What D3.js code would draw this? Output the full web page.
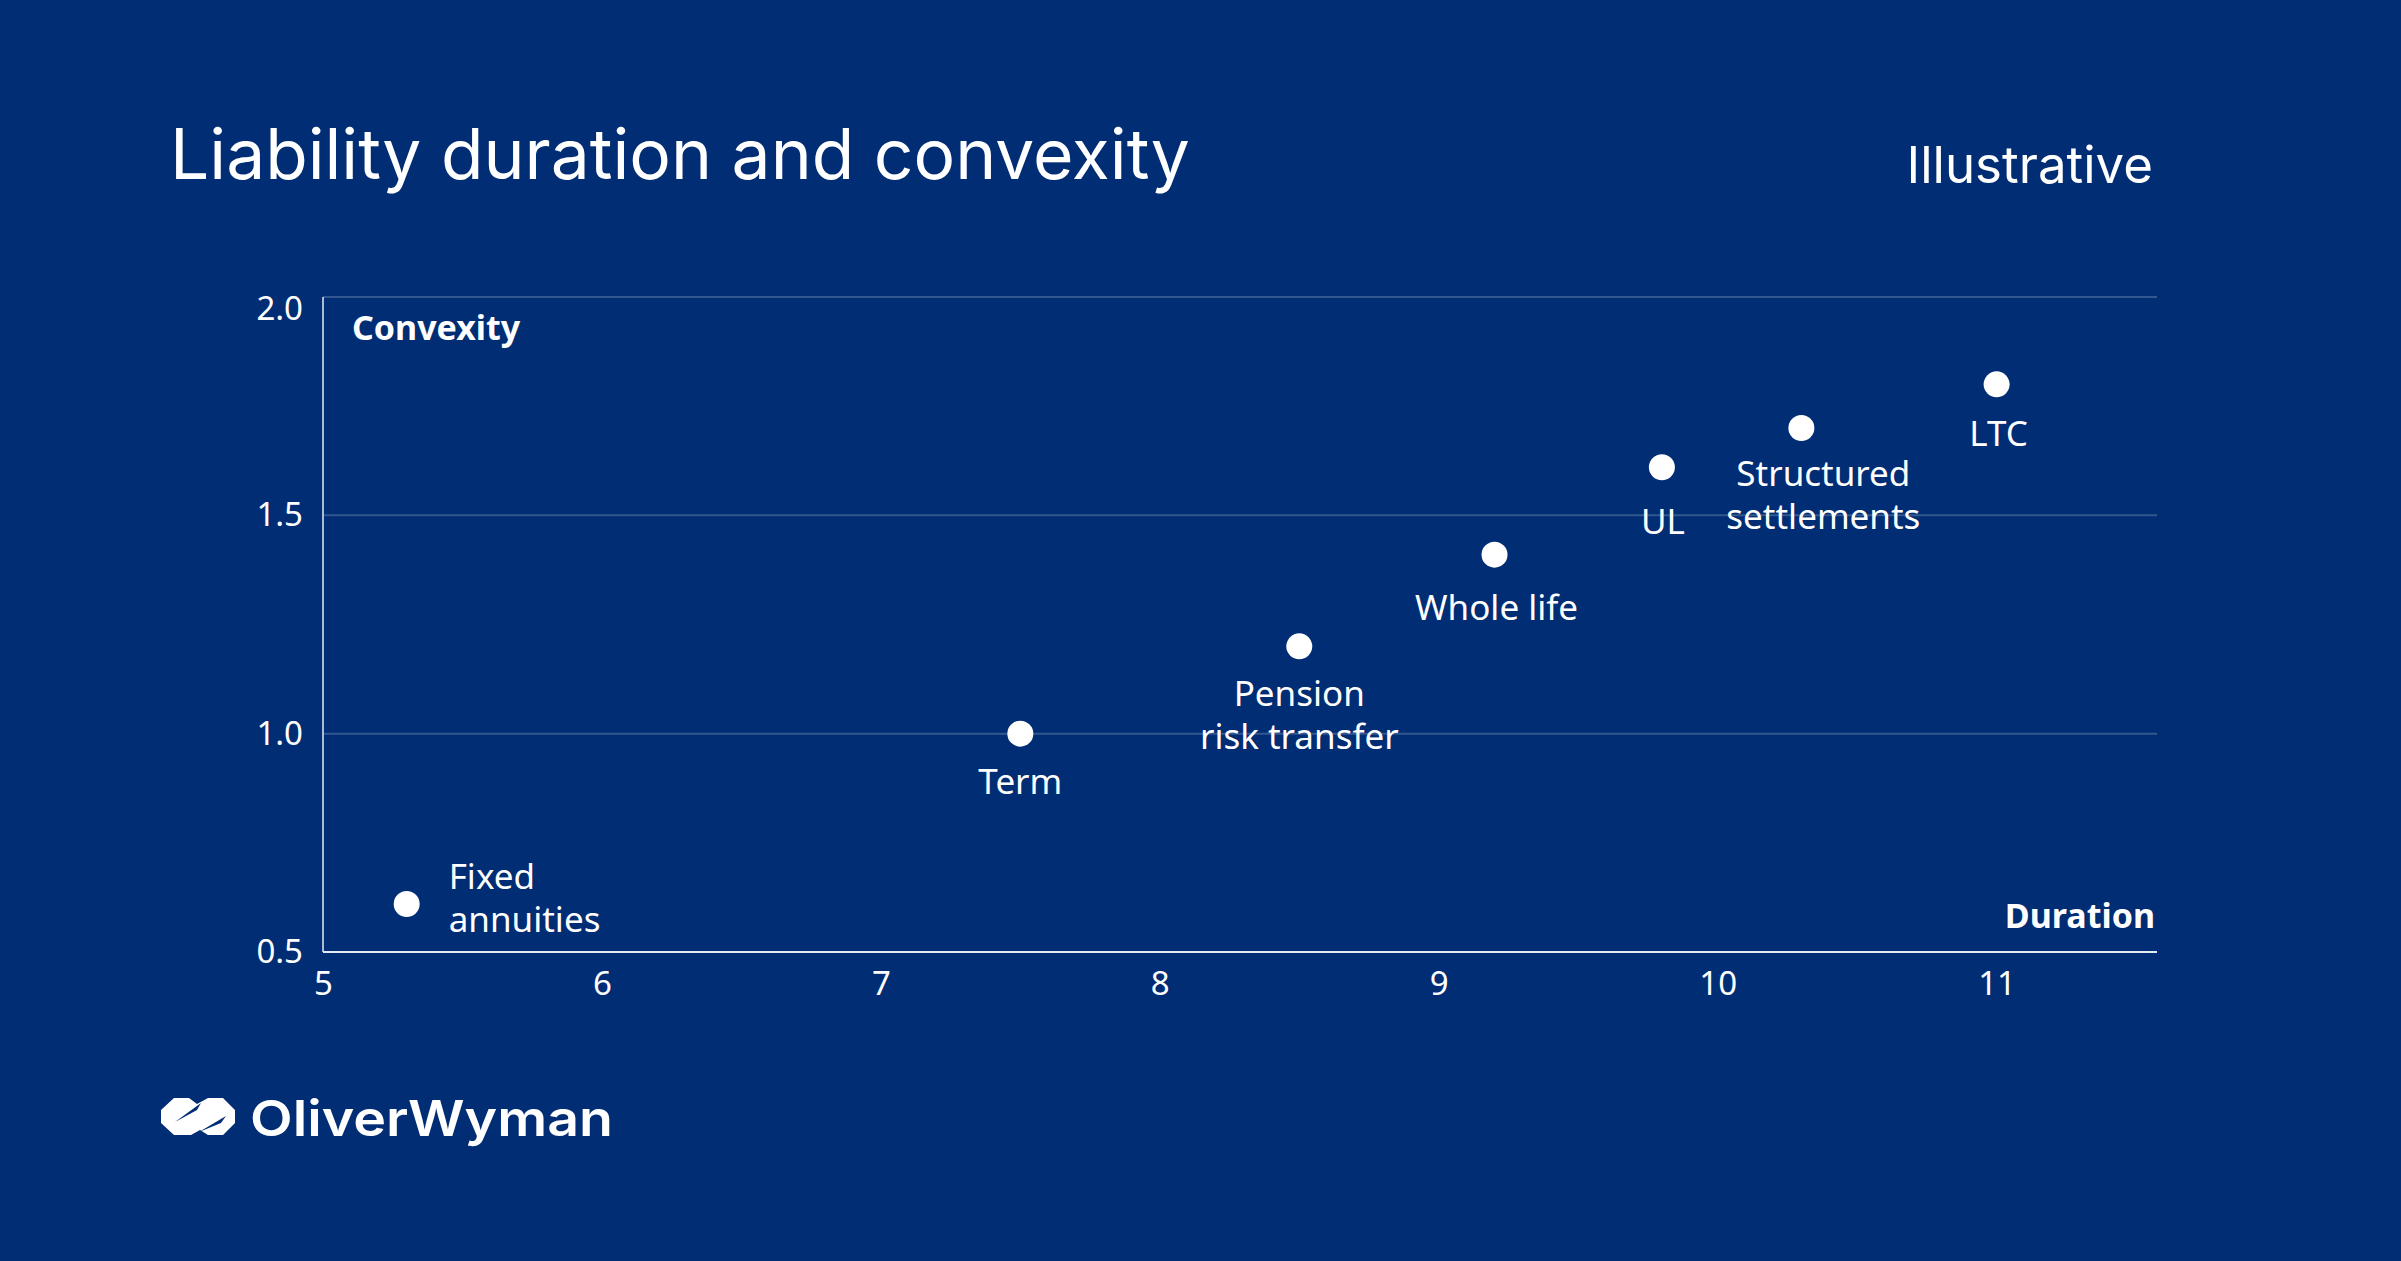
<!DOCTYPE html>
<html>
<head>
<meta charset="utf-8">
<script src="https://cdn.jsdelivr.net/npm/d3@7"></script>
<style>
  body { margin: 0; background: #012d74; }
  svg { display: block; }
  .tick text { fill: #ffffff; font-family: "Noto Sans", sans-serif; font-size: 33px; }
</style>
</head>
<body>
<div id="chart"></div>
<script>
// data
var products = ["Fixed annuities", "Term", "Pension risk transfer", "Whole life", "UL", "Structured settlements", "LTC"];
var duration = [5.3, 7.5, 8.5, 9.2, 9.8, 10.3, 11.0];
var convexity = [0.61, 1.0, 1.2, 1.41, 1.61, 1.7, 1.8];
var xTicks = [5, 6, 7, 8, 9, 10, 11];
var yTicks = [0.5, 1.0, 1.5, 2.0];

var svgWidth = 2401;
var svgHeight = 1261;

var svg = d3.select("#chart")
  .append("svg")
  .attr("width", svgWidth)
  .attr("height", svgHeight);

svg.append("rect")
  .attr("width", svgWidth)
  .attr("height", svgHeight)
  .attr("fill", "#012d74");

// plot area
var plotLeft = 323, plotRight = 2157, plotTop = 297, plotBottom = 952;

var xScale = d3.scaleLinear()
  .domain([5, 11.575])
  .range([plotLeft, plotRight]);

var yScale = d3.scaleLinear()
  .domain([0.5, 2.0])
  .range([plotBottom, plotTop]);

// gridlines
svg.append("g")
  .selectAll("line")
  .data(yTicks.filter(d => d > 0.5))
  .enter()
  .append("line")
  .attr("x1", plotLeft)
  .attr("x2", plotRight)
  .attr("y1", d => yScale(d))
  .attr("y2", d => yScale(d))
  .attr("stroke", "rgba(255,255,255,0.2)")
  .attr("stroke-width", 2);

// axes
var xAxis = d3.axisBottom(xScale)
  .tickValues(xTicks)
  .tickSize(0)
  .tickPadding(20)
  .tickFormat(d3.format("d"));

var yAxis = d3.axisLeft(yScale)
  .tickValues(yTicks)
  .tickSize(0)
  .tickPadding(20)
  .tickFormat(d3.format(".1f"));

var gx = svg.append("g")
  .attr("transform", `translate(0, ${plotBottom})`)
  .call(xAxis);
gx.select(".domain").remove();

var gy = svg.append("g")
  .attr("transform", `translate(${plotLeft}, 0)`)
  .call(yAxis);
gy.select(".domain").remove();
// top label sits just under its gridline
gy.selectAll(".tick text")
  .filter(d => d === 2.0)
  .attr("dy", "0.72em")
  .attr("y", -1);

svg.append("line")
  .attr("x1", plotLeft).attr("x2", plotLeft)
  .attr("y1", plotTop).attr("y2", plotBottom)
  .attr("stroke", "#e6ebf3")
  .attr("stroke-width", 1.5);

svg.append("line")
  .attr("x1", plotLeft).attr("x2", plotRight)
  .attr("y1", plotBottom).attr("y2", plotBottom)
  .attr("stroke", "#e6ebf3")
  .attr("stroke-width", 2);

// axis titles
svg.append("text")
  .attr("x", plotLeft + 29)
  .attr("y", 340)
  .attr("fill", "#ffffff")
  .attr("font-family", "Noto Sans, sans-serif")
  .attr("font-weight", "bold")
  .attr("font-size", 34)
  .text("Convexity");

svg.append("text")
  .attr("x", plotRight - 2)
  .attr("y", 928)
  .attr("text-anchor", "end")
  .attr("fill", "#ffffff")
  .attr("font-family", "Noto Sans, sans-serif")
  .attr("font-weight", "bold")
  .attr("font-size", 34)
  .text("Duration");

// points
var points = products.map((p, i) => ({ name: p, x: duration[i], y: convexity[i] }));

svg.append("g")
  .selectAll("circle")
  .data(points)
  .enter()
  .append("circle")
  .attr("cx", d => xScale(d.x))
  .attr("cy", d => yScale(d.y))
  .attr("r", 13)
  .attr("fill", "#ffffff");

// label placement: lines split for wrapping, most sit centered under the dot
var labelLines = {
  "Fixed annuities": ["Fixed", "annuities"],
  "Pension risk transfer": ["Pension", "risk transfer"],
  "Structured settlements": ["Structured", "settlements"]
};

var labels = svg.append("g")
  .selectAll("text")
  .data(points)
  .enter()
  .append("text")
  .attr("fill", "#ffffff")
  .attr("font-family", "Noto Sans, sans-serif")
  .attr("font-size", 35)
  .attr("text-anchor", d => d.name === "Fixed annuities" ? "start" : "middle")
  .attr("transform", function(d) {
    var dx = 0, dy = 60;
    if (d.name === "Fixed annuities") { dx = 42; dy = -15; }
    if (d.name === "Structured settlements") { dx = 22; dy = 58; }
    if (d.name === "UL") { dx = 1; dy = 67; }
    if (d.name === "Whole life") { dx = 2; dy = 65; }
    if (d.name === "LTC") { dx = 2; dy = 62; }
    return `translate(${xScale(d.x) + dx}, ${yScale(d.y) + dy})`;
  });

labels.selectAll("tspan")
  .data(d => labelLines[d.name] || [d.name])
  .enter()
  .append("tspan")
  .attr("x", 0)
  .attr("y", (d, i) => i * 43)
  .text(d => d);

// title
svg.append("text")
  .attr("x", 170)
  .attr("y", 179)
  .attr("fill", "#ffffff")
  .attr("font-family", "Inter, sans-serif")
  .attr("font-size", 69.5)
  .text("Liability duration and convexity");

svg.append("text")
  .attr("x", 2153)
  .attr("y", 183)
  .attr("text-anchor", "end")
  .attr("fill", "#ffffff")
  .attr("font-family", "Inter, sans-serif")
  .attr("font-size", 51)
  .text("Illustrative");

// logo
var logo = svg.append("g");
logo.append("path")
  .attr("d", "M161,1110 L174,1098 L189,1098 L197,1104 L208,1098 L223,1098 L235,1110 L235,1123 L223,1135 L208,1135 L200,1130 L191,1135 L174,1135 L161,1123 Z")
  .attr("fill", "#ffffff");
logo.append("path")
  .attr("d", "M201,1103 L175,1122 L197,1110 Z M226,1116 L199,1132 L221,1123 Z")
  .attr("fill", "#012d74");
logo.append("text")
  .attr("x", 250)
  .attr("y", 1136)
  .attr("fill", "#ffffff")
  .attr("font-family", "Inter, sans-serif")
  .attr("font-weight", 600)
  .attr("font-size", 50)
  .attr("textLength", 363)
  .attr("lengthAdjust", "spacingAndGlyphs")
  .text("OliverWyman");
</script>
</body>
</html>
